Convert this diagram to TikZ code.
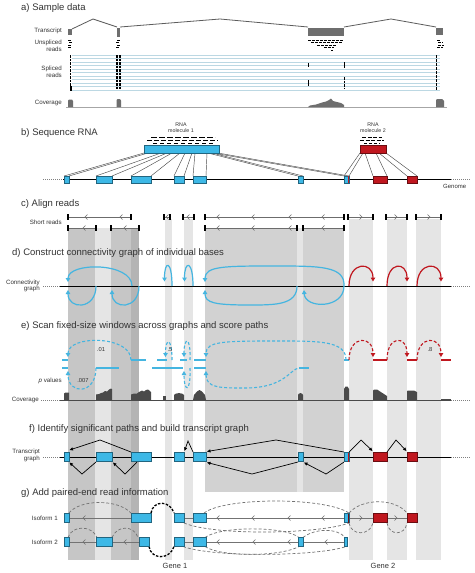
\documentclass[tikz,border=0pt]{standalone}
\usepackage{fontspec}
\setmainfont{Liberation Sans}
\usetikzlibrary{arrows.meta}
\definecolor{cy}{HTML}{3DB8E6}
\definecolor{cyline}{HTML}{45B5E0}
\definecolor{rd}{HTML}{C0171F}
\definecolor{txt}{HTML}{333333}
\definecolor{bandM}{HTML}{C6C6C6}
\definecolor{bandL}{HTML}{E5E5E5}
\definecolor{bandD}{HTML}{B4B4B4}
\definecolor{bandG}{HTML}{D2D2D2}
\definecolor{dk}{HTML}{4A4A4A}
\definecolor{splice}{HTML}{BCD8E3}
\newcommand\myexon[5]{\filldraw[fill=#5, draw=#5!55!black, line width=0.4pt] (#1,#3) rectangle (#2,#4);}
\newcommand\chevL[2]{\draw[chev] (#1,#2) ++(2.5,-2.5) -- ++(-2.5,2.5) -- ++(2.5,2.5);}
\newcommand\chevR[2]{\draw[chev] (#1,#2) ++(-2.5,-2.5) -- ++(2.5,2.5) -- ++(-2.5,2.5);}
\newcommand\myread[3]{\draw[readline] (#1,#3) -- (#2,#3); \draw[readbar] (#1,#3-2.6) -- (#1,#3+2.6); \draw[readbar] (#2,#3-2.6) -- (#2,#3+2.6);}
\begin{document}
\begin{tikzpicture}[x=1pt,y=-1pt,
 title/.style={anchor=base west, font=\fontsize{9.5}{11}\selectfont, text=txt, inner sep=0pt},
 lab/.style={anchor=east, font=\fontsize{6.2}{6.6}\selectfont, text=txt, align=right, inner sep=0pt},
 tinylab/.style={font=\fontsize{5.3}{5.8}\selectfont, text=txt, align=center, inner sep=0pt},
 genelab/.style={font=\fontsize{7.5}{8}\selectfont, text=txt, inner sep=0pt},
 dotl/.style={gray, line width=0.6pt, dash pattern=on 1pt off 1pt},
 axis/.style={black, line width=0.9pt},
 readline/.style={gray!85!black, line width=0.5pt},
 readbar/.style={black, line width=1.1pt},
 chev/.style={gray!85!black, line width=0.5pt},
 cyarc/.style={cyline, line width=1.2pt, -{Triangle[length=4pt,width=4.5pt]}},
 rdarc/.style={rd, line width=1.2pt, -{Triangle[length=4pt,width=4.5pt]}},
 cydash/.style={cyline, line width=1.1pt, dash pattern=on 3pt off 2pt, -{Triangle[length=4pt,width=4.5pt]}},
 rddash/.style={rd, line width=1.1pt, dash pattern=on 3pt off 2pt, -{Triangle[length=4pt,width=4.5pt]}},
 cyseg/.style={cyline, line width=1.5pt},
 rdseg/.style={rd, line width=1.5pt},
 edge/.style={black, line width=0.7pt, -{Triangle[length=3.5pt,width=3pt]}},
 pdash/.style={gray!90!black, line width=0.7pt, dash pattern=on 3pt off 2pt},
 bdash/.style={black, line width=1.3pt, dash pattern=on 2.5pt off 1.5pt},
 isoline/.style={gray!90!black, line width=0.7pt},
 gtr/.style={fill=dk!80!white},
 cov/.style={fill=dk},
 molline/.style={gray!60!black, line width=0.45pt},
 ureads/.style={black, line width=1pt, dash pattern=on 3pt off 1pt},
 sreads/.style={black, line width=1.3pt, dash pattern=on 2.5pt off 1pt}
]
\useasboundingbox (0,0) rectangle (474,573);
\fill[white] (0,0) rectangle (474,573);

% ---------- shaded bands ----------
\fill[bandM] (68,228) rectangle (95,560);
\fill[bandL] (95,228) rectangle (111,560);
\fill[bandM] (111,228) rectangle (131,560);
\fill[bandD] (131,228) rectangle (139,560);
\fill[bandL] (165,219) rectangle (172,560);
\fill[bandL] (184,219) rectangle (193,560);
\fill[bandG] (205,228) rectangle (344,492);
\fill[bandL] (297,228) rectangle (303,492);
\fill[bandL] (349,219) rectangle (373,560);
\fill[bandL] (387,219) rectangle (407,560);
\fill[bandL] (416,219) rectangle (441,560);

% ---------- a) Sample data ----------
\node[title] (ta) at (21,10.5) {a) Sample data};
\node[lab] (la1) at (62,31) {Transcript};
\node[lab] (la2) at (62,46) {Unspliced\\reads};
\node[lab] (la3) at (62,72) {Spliced\\reads};
\node[lab] (la4) at (62,103) {Coverage};
% transcript
\draw[dk!90!white, line width=0.8pt] (72,29) -- (93,19) -- (117,27);
\draw[dk!90!white, line width=0.8pt] (120,27) -- (220,19) -- (308,27);
\draw[dk!90!white, line width=0.8pt] (344,27) -- (391,19) -- (436,27);
\fill[gtr] (68,29) rectangle (72,34.5);
\fill[gtr] (116.5,27.5) rectangle (120,36.5);
\fill[gtr] (308,28) rectangle (344,36);
\fill[gtr] (436,27.5) rectangle (443,35);
% unspliced reads
\draw[ureads] (68,40) -- (71,40); \draw[ureads] (69,42.5) -- (72,42.5);
\draw[ureads] (68,45) -- (72,45); \draw[ureads] (68,47.5) -- (71,47.5);
\draw[ureads] (117,40) -- (120,40); \draw[ureads] (116,42.5) -- (120,42.5);
\draw[ureads] (117,45) -- (120,45); \draw[ureads] (116,47.5) -- (119,47.5);
\draw[ureads] (308,40) -- (344,40);
\draw[ureads] (311,42.5) -- (343,42.5);
\draw[ureads] (317,45) -- (337,45);
\draw[ureads] (324,47.5) -- (334,47.5);
\draw[ureads] (331,50) -- (333,50);
\draw[ureads] (437,40) -- (441,40); \draw[ureads] (438,42.5) -- (443,42.5);
\draw[ureads] (438,45) -- (444,45); \draw[ureads] (437,47.5) -- (443,47.5);
% spliced reads
\foreach \yy in {55,58.5,62,65.5,69,72.5,76,79.5,83,86.5,90}{
  \draw[splice, line width=0.6pt] (72,\yy) -- (440,\yy);}
\draw[sreads] (70.5,55) -- (70.5,90);
\fill[black] (69.5,86) rectangle (71.8,90.5);
\draw[sreads] (117,55) -- (117,90);
\draw[sreads] (120,55) -- (120,90);
\draw[black, line width=0.8pt] (308,63) -- (308,67);
\draw[black, line width=1pt] (308,80) -- (308,86);
\draw[black, line width=1.4pt] (344.5,62) -- (344.5,68);
\draw[black, line width=1.4pt, dash pattern=on 2.5pt off 1pt] (344.5,77) -- (344.5,88);
\draw[black, line width=0.8pt, dash pattern=on 2.5pt off 1.5pt] (436,55) -- (436,90);
% coverage
\draw[gray!70, line width=0.5pt] (66,107) -- (447,107);
\fill[gtr] (68,107) -- (68,100.5) -- (69,99.5) -- (72,99.5) -- (73,101) -- (73,107) -- cycle;
\fill[gtr] (116.5,107) -- (116.5,100) -- (117.5,99) -- (120,99) -- (121,100.5) -- (121,107) -- cycle;
\fill[gtr] (308,107) -- (310,105.5) -- (316,104.5) -- (322,102.5) -- (326,101.5) -- (329,100) -- (331,98.5) -- (333,101) -- (337,102) -- (341,103) -- (344,105) -- (344,107) -- cycle;
\fill[gtr] (436,107) -- (436,100) -- (437,99) -- (442,99) -- (444,101) -- (444,107) -- cycle;

% ---------- b) Sequence RNA ----------
\node[title] (tb) at (21,135.5) {b) Sequence RNA};
\node[tinylab] (rna1) at (181,127.5) {RNA\\molecule 1};
\node[tinylab] (rna2) at (373,127.5) {RNA\\molecule 2};
\node[tinylab, anchor=west, font=\fontsize{6}{6.5}\selectfont] (gen) at (443,186) {Genome};
% molecule lines
\foreach \ml/\mr/\el/\er in {144/148/64/69, 161/167/96/112, 172/180/131/151, 185/192/174/184, 195/207/193/206, 208/212/298/303, 213/218/344/349, 360/363/344/349, 365/376/373/387, 379/386/407/417}{
  \draw[molline] (\ml,153) -- (\el,176);
  \draw[molline] (\mr,153) -- (\er,176);}
\draw[dotl] (43,179.5) -- (63,179.5);
\draw[dotl] (451,179.5) -- (470,179.5);
\draw[axis] (63,179.5) -- (451,179.5);
\myexon{64}{69}{176}{183}{cy}
\myexon{96}{112}{176}{183}{cy}
\myexon{131}{151}{176}{183}{cy}
\myexon{174}{184}{176}{183}{cy}
\myexon{193}{206}{176}{183}{cy}
\myexon{298}{303}{176}{183}{cy}
\myexon{344}{349}{176}{183}{cy}
\draw[rd, line width=1pt] (348.3,176) -- (348.3,183);
\myexon{373}{387}{176}{183}{rd}
\myexon{407}{417}{176}{183}{rd}
\myexon{144}{219}{145}{153}{cy}
\myexon{360}{386}{145}{153}{rd}
% reads over molecules
\draw[black, line width=1pt, dash pattern=on 6pt off 2pt] (151,137.5) -- (215,137.5);
\draw[black, line width=1pt, dash pattern=on 5pt off 2pt] (147,140.5) -- (218,140.5);
\draw[black, line width=1pt, dash pattern=on 4pt off 3pt] (153,143) -- (214,143);
\draw[black, line width=1pt, dash pattern=on 4pt off 1.5pt] (362,137.5) -- (382,137.5);
\draw[black, line width=1pt, dash pattern=on 4pt off 1.5pt] (360,140.5) -- (384,140.5);
\draw[black, line width=1pt, dash pattern=on 3pt off 2pt] (364,143) -- (380,143);

% ---------- c) Align reads ----------
\node[title] (tc) at (21,206) {c) Align reads};
\node[lab] (lc) at (62,222.5) {Short reads};
\myread{68}{131}{217} \chevL{85}{217} \chevL{120}{217}
\myread{164}{170}{217} \chevL{166}{217}
\myread{183}{194}{217} \chevL{187}{217}
\myread{205}{344}{217} \chevL{217}{217} \chevL{252}{217} \chevL{289}{217} \chevL{322}{217}
\myread{348}{373}{217} \chevR{362}{217}
\myread{386}{407}{217} \chevR{397}{217}
\myread{416}{441}{217} \chevR{430}{217}
\myread{68}{96}{228} \chevL{83}{228}
\myread{111}{139}{228} \chevL{124}{228}
\myread{205}{297}{228} \chevL{217}{228} \chevL{252}{228} \chevL{289}{228}
\myread{303}{344}{228} \chevL{322}{228}

% ---------- d) Connectivity graph ----------
\node[title] (td) at (12,255) {d) Construct connectivity graph of individual bases};
\node[lab, anchor=north east] (ld) at (40,279.5) {Connectivity\\graph};
\draw[dotl] (43,286) -- (60,286);
\draw[dotl] (451,286) -- (470,286);
\draw[axis] (60,286) -- (451,286);
\draw[cyarc] (132,286) .. controls (132,262) and (68,262) .. (68,282);
\draw[cyarc] (96,286) .. controls (96,310) and (68,310) .. (68,290);
\draw[cyarc] (139,286) .. controls (139,310) and (112,310) .. (112,290);
\draw[cyarc] (172,286) .. controls (172,260) and (164.5,260) .. (164.5,281.5);
\draw[cyarc] (193,286) .. controls (193,260) and (184.5,260) .. (184.5,281.5);
\draw[cyarc] (344,286) .. controls (345,266) and (320,266) .. (275,266) .. controls (225,266) and (205,266) .. (205,282);
\draw[cyarc] (297,286) .. controls (297,305) and (275,305) .. (250,305) .. controls (215,305) and (205,303) .. (205,290);
\draw[cyarc] (344,286) .. controls (344,309) and (305,309) .. (304,290);
\draw[rdarc] (349,286) .. controls (349,261) and (373,261) .. (373,281.5);
\draw[rdarc] (387,286) .. controls (387,261) and (407,261) .. (407,281.5);
\draw[rdarc] (417,286) .. controls (417,261) and (441,261) .. (441,281.5);

% ---------- e) Scan windows ----------
\node[title] (te) at (21,328) {e) Scan fixed-size windows across graphs and score paths};
\foreach \a/\b in {62/68, 131/146, 157/167, 180/187, 194/206, 344/349}{\draw[cyseg] (\a,360) -- (\b,360);}
\foreach \a/\b in {62/68, 96/119, 152/183, 194/206, 299/309}{\draw[cyseg] (\a,368) -- (\b,368);}
\draw[cydash] (131,360) .. controls (131,335) and (68,335) .. (68,357);
\draw[cydash] (96,368) .. controls (96,395) and (68,395) .. (68,371);
\draw[cydash] (172,360) .. controls (172,337) and (165.5,337) .. (165.5,357);
\draw[cydash] (190,360) .. controls (191,336) and (184,336) .. (184,357);
\draw[cydash] (190,368) .. controls (191,393) and (184,393) .. (184,371);
\draw[cydash] (346,360) .. controls (346,341) and (320,341) .. (280,341) .. controls (225,341) and (206,341) .. (206,357);
\draw[cyline, line width=1.1pt, dash pattern=on 3pt off 2pt, {Triangle[length=4pt,width=4.5pt]}-] (206,371) .. controls (206,388) and (220,388) .. (245,388) .. controls (285,388) and (290,369) .. (299,368);
\draw[rdseg] (373,360) -- (387,360);
\draw[rdseg] (407,360) -- (417,360);
\draw[rdseg] (441,360) -- (451,360);
\draw[rddash] (349,360) .. controls (349,335) and (373,335) .. (373,357);
\draw[rddash] (387,360) .. controls (387,335) and (407,335) .. (407,357);
\draw[rddash] (417,360) .. controls (417,335) and (441,335) .. (441,357);
\node[tinylab, font=\fontsize{5.8}{6}\selectfont] (p1) at (101,349.5) {.01};
\node[tinylab, font=\fontsize{5.8}{6}\selectfont] (p2) at (83,380.5) {.007};
\node[tinylab, font=\fontsize{5.8}{6}\selectfont] (p3) at (170,349.5) {.5};
\node[tinylab, font=\fontsize{5.8}{6}\selectfont] (p4) at (430,349.5) {.8};
\node[lab] (lp) at (62,381) {\textit{p} values};
\node[lab] (lcov) at (39,400) {Coverage};
\draw[dotl] (41,400) -- (60,400);
\draw[dotl] (451,400) -- (470,400);
\fill[cov] (64,400) -- (64,393.5) -- (65.5,392.5) -- (69,392.5) -- (69,400) -- cycle;
\fill[cov] (96,400) -- (96,394.5) -- (99,394) -- (101,393) -- (103,392.5) -- (105,391) -- (107,391.5) -- (109,389.5) -- (111,388.5) -- (112,389) -- (112,400) -- cycle;
\fill[cov] (131,400) -- (131,394.5) -- (134,393.5) -- (137,393.5) -- (139,392) -- (142,390.5) -- (144,391.5) -- (146,390) -- (148,389.5) -- (150,391) -- (151,392) -- (151,400) -- cycle;
\fill[cov] (163,400) -- (163,396) -- (166,396) -- (166,400) -- cycle;
\fill[cov] (174,400) -- (174,395) .. controls (175,392.5) and (183,392.5) .. (184,395) -- (184,400) -- cycle;
\fill[cov] (193,400) -- (194,395) -- (197,391.5) -- (199.5,390) -- (202,391.5) -- (205,395) -- (206,400) -- cycle;
\fill[cov] (298,400) -- (298,395) .. controls (298.5,392.5) and (302.5,392.5) .. (303,395) -- (303,400) -- cycle;
\fill[cov] (344,400) -- (344,389) -- (345.5,386.5) -- (347.5,386.5) -- (349,389) -- (349,400) -- cycle;
\fill[cov] (373,400) -- (373,390.5) -- (374,389.5) -- (377,389.5) -- (387,396) -- (387,400) -- cycle;
\fill[cov] (407,400) -- (407,391) -- (408,390.5) -- (414,390.5) -- (417,392) -- (417,400) -- cycle;
\fill[cov] (441,398.5) rectangle (451,400);
\draw[dk, line width=1pt] (60,400) -- (451,400);

% ---------- f) Transcript graph ----------
\node[title] (tf) at (29,431) {f) Identify significant paths and build transcript graph};
\node[lab, anchor=north east] (lf) at (40,449) {Transcript\\graph};
\draw[dotl] (43,457) -- (60,457);
\draw[dotl] (451,457) -- (470,457);
\draw[axis] (60,457) -- (451,457);
\myexon{64}{69}{452.5}{461.5}{cy}
\myexon{96}{112}{452.5}{461.5}{cy}
\myexon{131}{151}{452.5}{461.5}{cy}
\myexon{174}{184}{452.5}{461.5}{cy}
\myexon{193}{206}{452.5}{461.5}{cy}
\myexon{298}{303}{452.5}{461.5}{cy}
\myexon{344}{349}{452.5}{461.5}{cy}
\draw[rd, line width=1pt] (348.3,452.5) -- (348.3,461.5);
\myexon{373}{387}{452.5}{461.5}{rd}
\myexon{407}{417}{452.5}{461.5}{rd}
\draw[edge] (131,452) -- (100,440) -- (69.5,450);
\draw[edge] (96,462) -- (82,474) -- (69.5,462.5);
\draw[edge] (137,462) -- (125,474) -- (113,462.5);
\draw[edge] (193,452) -- (188,441) -- (184.5,451);
\draw[edge] (344,452) -- (276,440) -- (207,451.5);
\draw[edge] (298,462) -- (252,474) -- (207,462.5);
\draw[edge] (344,462) -- (326,474) -- (304,462.5);
\draw[edge] (349,452) -- (361,440) -- (372.5,451);
\draw[edge] (387,452) -- (396,440) -- (406.5,451);

% ---------- g) Paired-end ----------
\node[title] (tg) at (21,495) {g) Add paired-end read information};
\node[lab] (li1) at (58,518) {Isoform 1};
\node[lab] (li2) at (58,542) {Isoform 2};
% isoform 1 backbone
\draw[isoline] (69,518) -- (131,518);
\draw[isoline] (184,518) -- (193,518);
\draw[isoline] (206,518) -- (344,518);
\draw[isoline] (349,518) -- (373,518);
\draw[isoline] (387,518) -- (407,518);
\chevL{83}{518} \chevL{217}{518} \chevL{252}{518} \chevL{288}{518} \chevL{322}{518}
\chevR{362}{518} \chevR{397}{518}
% isoform 2 backbone
\draw[isoline] (69,542) -- (96,542);
\draw[isoline] (112,542) -- (139,542);
\draw[isoline] (184,542) -- (193,542);
\draw[isoline] (206,542) -- (298,542);
\draw[isoline] (303,542) -- (344,542);
\chevL{83}{542} \chevL{124}{542} \chevL{217}{542} \chevL{253}{542} \chevL{288}{542} \chevL{325}{542}
% dashed pairs isoform 1
\draw[pdash] (69,513) .. controls (80,499) and (118,499) .. (131,513);
\draw[pdash] (204,513) .. controls (225,497) and (325,497) .. (349,513);
\draw[pdash] (184,523) .. controls (215,536) and (320,534) .. (349,523);
\draw[pdash] (349,513) .. controls (362,498) and (395,498) .. (407,513);
\draw[pdash] (349,523) .. controls (351,536) and (370,536) .. (373,523);
\draw[pdash] (387,523) .. controls (389,536) and (405,536) .. (407,523);
% dashed pairs isoform 2
\draw[pdash] (68,537.5) .. controls (72,525) and (92,525) .. (97,537.5);
\draw[pdash] (112,537.5) .. controls (117,525) and (134,525) .. (138,537.5);
\draw[pdash] (205,537.5) .. controls (220,526) and (285,526) .. (299,537.5);
\draw[pdash] (303,537.5) .. controls (315,528) and (338,528) .. (345,537.5);
\draw[pdash] (183,546.5) .. controls (215,558) and (320,556) .. (346,546.5);
\draw[pdash] (205,546.5) .. controls (220,557) and (280,557) .. (299,546.5);
% black dashed
\draw[bdash] (151,513) .. controls (153,500) and (170,500) .. (174,513);
\draw[bdash] (149,546.5) .. controls (151,560) and (170,560) .. (174,546.5);
% exons isoform 1
\myexon{64}{69}{513.5}{522.5}{cy}
\myexon{131}{151}{513.5}{522.5}{cy}
\myexon{174}{184}{513.5}{522.5}{cy}
\myexon{193}{206}{513.5}{522.5}{cy}
\myexon{344}{349}{513.5}{522.5}{cy}
\draw[rd!60!black, line width=1pt] (348.3,513.5) -- (348.3,522.5);
\myexon{373}{387}{513.5}{522.5}{rd}
\myexon{407}{417}{513.5}{522.5}{rd}
% exons isoform 2
\myexon{64}{69}{537.5}{546.5}{cy}
\myexon{96}{112}{537.5}{546.5}{cy}
\myexon{139}{149}{537.5}{546.5}{cy}
\myexon{174}{184}{537.5}{546.5}{cy}
\myexon{193}{206}{537.5}{546.5}{cy}
\myexon{298}{303}{537.5}{546.5}{cy}
\myexon{344}{347}{537.5}{546.5}{cy}
\node[genelab] (g1) at (175,566) {Gene 1};
\node[genelab] (g2) at (383,566) {Gene 2};
\end{tikzpicture}
\end{document}
